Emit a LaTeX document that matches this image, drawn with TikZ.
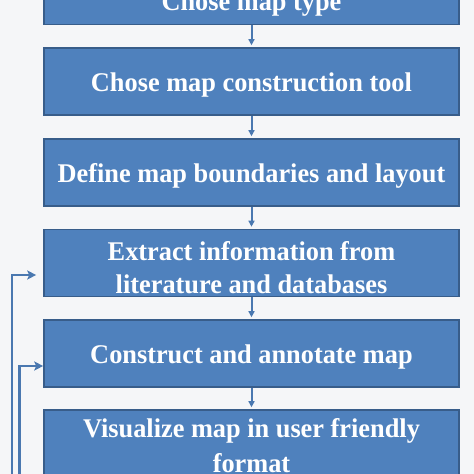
\documentclass[tikz,border=0pt]{standalone}
\usepackage{fontspec}
\setmainfont{Liberation Serif}
\usetikzlibrary{arrows.meta}
\definecolor{bg}{HTML}{F5F6F8}
\definecolor{boxfill}{HTML}{4F81BD}
\definecolor{boxline}{HTML}{385D8A}
\definecolor{arrowc}{HTML}{4A78B0}
\newcommand{\boxtxt}[2][-9.5pt]{\raisebox{#1}[0pt][0pt]{\parbox[t]{410pt}{\centering\scalebox{0.975}[1]{\parbox[t]{420pt}{\centering #2}}}}}
\tikzset{
  stepbox/.style={rectangle, fill=boxfill, draw=boxline, line width=1.6pt,
    minimum width=415pt, minimum height=67pt, inner sep=0pt,
    text=white, font=\fontsize{27}{33}\selectfont\bfseries},
  flow/.style={draw=arrowc, line width=2pt, -{Triangle[length=6pt,width=6pt]}},
  feedback/.style={draw=arrowc, line width=2.2pt, -{Stealth[length=9pt,width=9pt,inset=2pt]}}
}
\begin{document}
\begin{tikzpicture}[x=1pt,y=-1pt]
\useasboundingbox (0,0) rectangle (474,474);
\clip (0,0) rectangle (474,474);
\fill[bg] (0,0) rectangle (474,474);
\node[stepbox] (b1) at (251.5,-9) {\boxtxt[-19.5pt]{Chose map type}};
\node[stepbox] (b2) at (251.5,81.5) {\boxtxt{Chose map construction tool}};
\node[stepbox] (b3) at (251.5,172.5) {\boxtxt{Define map boundaries and layout}};
\node[stepbox] (b4) at (251.5,263) {\boxtxt[3pt]{Extract information from\\literature and databases}};
\node[stepbox] (b5) at (251.5,353.5) {\boxtxt{Construct and annotate map}};
\node[stepbox, minimum height=80pt] (b6) at (251.5,450) {\boxtxt[13pt]{Visualize map in user friendly\\[2pt]format}};
\draw[flow] (b1.south) -- ([yshift=2pt]b2.north);
\draw[flow] (b2.south) -- ([yshift=2pt]b3.north);
\draw[flow] (b3.south) -- ([yshift=2pt]b4.north);
\draw[flow] (b4.south) -- ([yshift=2pt]b5.north);
\draw[flow] (b5.south) -- ([yshift=2pt]b6.north);
\coordinate (f1) at (12,480);
\coordinate (f2) at (19.5,480);
\draw[feedback] (f1) |- ([xshift=-7pt,yshift=-12pt]b4.west);
\draw[feedback] (f2) |- ([yshift=-12.5pt]b5.west);
\end{tikzpicture}
\end{document}
